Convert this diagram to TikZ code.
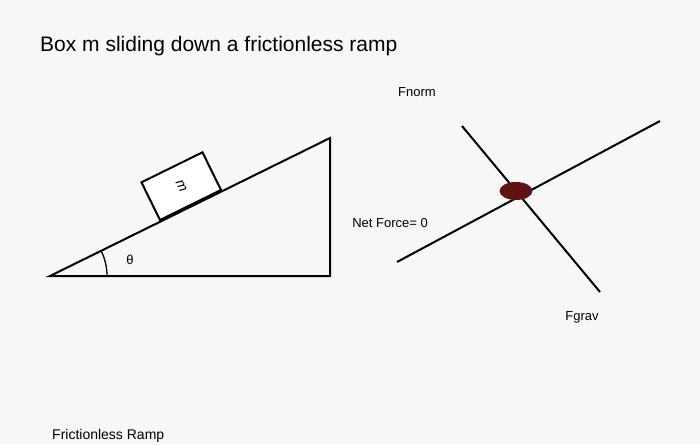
\documentclass[tikz,border=0pt]{standalone}
\usepackage{fontspec}
\setmainfont{Liberation Sans}
\usetikzlibrary{shapes.geometric}
\begin{document}
\begin{tikzpicture}[x=1pt,y=-1pt,
  ln/.style={line width=2pt,black},
  lbl/.style={inner sep=0pt,font=\fontsize{13}{15}\selectfont}]
\fill[gray!6] (0,0) rectangle (700,444);
\useasboundingbox (0,0) rectangle (700,444);
\node[inner sep=0pt,anchor=west,font=\fontsize{21}{24}\selectfont] (title) at (40,46) {Box m sliding down a frictionless ramp};
% ramp
\coordinate (A) at (50,276);
\coordinate (B) at (330,276);
\coordinate (C) at (330,138);
\draw[ln] (A) -- (B) -- (C) -- cycle;
\draw[ln,line width=1.3pt] (A) ++(57,0) arc[start angle=0,end angle=-26,radius=57];
\node[lbl] (theta) at (130,260) {θ};
% box
\begin{scope}[shift={(160,220)},rotate=26.2]
\draw[ln,fill=white] (0,0) coordinate (b1) rectangle (68,-42) coordinate (b2);
\node[lbl,font=\fontsize{14}{16}\selectfont\itshape,rotate=-64] (m) at (34,-21) {m};
\end{scope}
% forces
\coordinate (n1) at (397,262);
\coordinate (n2) at (660,121);
\coordinate (g1) at (462,126);
\coordinate (g2) at (600,292);
\draw[ln] (n1) -- (n2);
\draw[ln] (g1) -- (g2);
\node[ellipse,draw=none,fill={rgb,255:red,95;green,18;blue,16},minimum width=33pt,minimum height=18pt,inner sep=0pt] (dot) at (516,191) {};
\node[lbl] (fnorm) at (417,92) {Fnorm};
\node[lbl] (net) at (390,223) {Net Force= 0};
\node[lbl] (fgrav) at (582,317) {Fgrav};
\node[lbl,anchor=west,font=\fontsize{14}{16}\selectfont] (fr) at (52,436) {Frictionless Ramp};
\end{tikzpicture}
\end{document}
